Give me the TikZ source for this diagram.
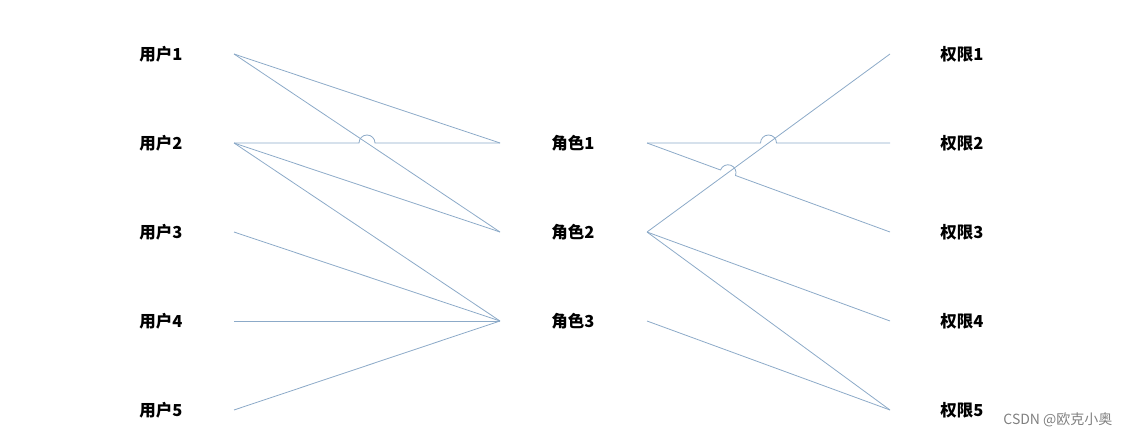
\documentclass[tikz,border=0pt]{standalone}
\usepackage{fontspec}
\newfontfamily\cjk{Noto Sans CJK SC}
\begin{document}
\begin{tikzpicture}[x=1pt,y=-1pt,
  lbl/.style={font=\cjk\bfseries\fontsize{16.5}{16.5}\selectfont,text=black},
  ln/.style={draw={rgb,255:red,140;green,170;blue,200},line width=0.8pt}]
\useasboundingbox (0,0) rectangle (1128,439);
\foreach \i/\y in {1/54,2/143,3/232,4/321,5/410}{
  \node[lbl] (u\i) at (161,\y) {用户\i};
  \coordinate (ua\i) at (234,\y);
  \node[lbl] (p\i) at (962,\y) {权限\i};
  \coordinate (pa\i) at (890,\y);
}
\foreach \i/\y in {1/143,2/232,3/321}{
  \node[lbl] (r\i) at (573,\y) {角色\i};
  \coordinate (rl\i) at (500,\y);
  \coordinate (rr\i) at (647,\y);
}
% left
\draw[ln] (ua1) -- (rl1);
\draw[ln] (ua1) -- (rl2);
\coordinate (h1) at (359,143);
\draw[ln] (ua2) -- (h1) arc[start angle=180,end angle=0,radius=8pt] -- (rl1);
\draw[ln] (ua2) -- (rl2);
\draw[ln] (ua2) -- (rl3);
\draw[ln] (ua3) -- (rl3);
\draw[ln] (ua4) -- (rl3);
\draw[ln] (ua5) -- (rl3);
% right
\coordinate (h2) at (760.5,143);
\draw[ln] (rr1) -- (h2) arc[start angle=180,end angle=0,radius=8pt] -- (pa2);
\coordinate (h3) at (720.5,170.0);
\draw[ln] (rr1) -- (h3) arc[start angle=159.9,end angle=-20.1,radius=8pt] -- (pa3);
\draw[ln] (rr2) -- (pa1);
\draw[ln] (rr2) -- (pa4);
\draw[ln] (rr2) -- (pa5);
\draw[ln] (rr3) -- (pa5);
\node[font=\cjk\fontsize{14}{14}\selectfont,text=gray,anchor=east] (wm) at (1116,420) {CSDN @欧克小奥};
\end{tikzpicture}
\end{document}
